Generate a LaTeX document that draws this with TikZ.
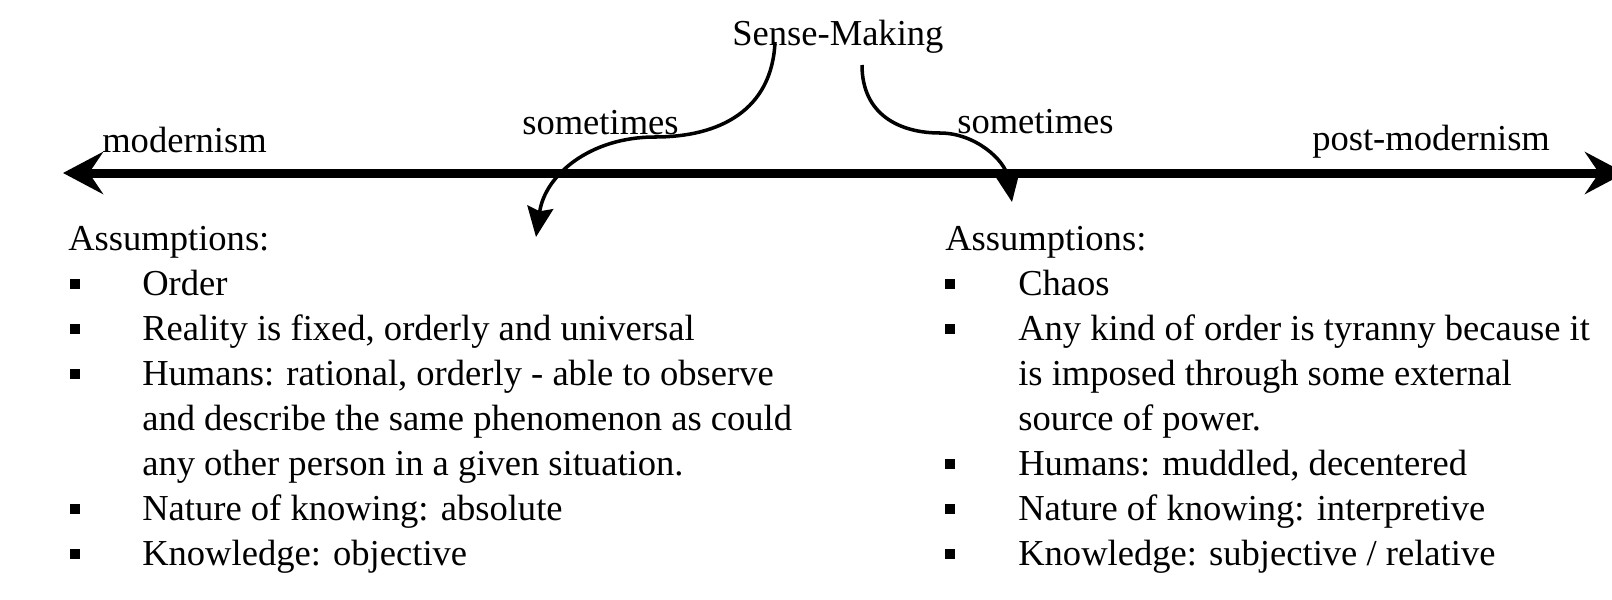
\documentclass[tikz,border=0pt]{standalone}
\usepackage{fontspec}
\setmainfont{Liberation Serif}
\usetikzlibrary{arrows.meta}
\begin{document}
\begin{tikzpicture}[x=0.025cm,y=-0.025cm,
    txt/.style={anchor=base west,inner sep=0pt,font=\fontsize{26}{32}\selectfont},
    axis/.style={line width=6.4pt,{Stealth[length=1cm,width=1.05cm,inset=0.35cm]}-{Stealth[length=1cm,width=1.05cm,inset=0.35cm]}},
    curvearrow/.style={line width=2.5pt,-{Stealth[length=0.75cm,width=0.65cm,inset=0.1cm]}},
    bul/.style={rectangle,fill=black,minimum size=0.25cm,inner sep=0pt}
]
    \useasboundingbox (0,0) rectangle (1612,599);
    \clip (0,0) rectangle (1612,599);
    % axis
    \coordinate (axl) at (63,173);
    \coordinate (axr) at (1625,173);
    \draw[axis] (axl) -- (axr);
    \node[txt] (mod) at (102,152) {modernism};
    \node[txt] (pmod) at (1312,150) {post-modernism};
    % sense-making and the two curves
    \node[txt] (sm) at (732,45) {Sense-Making};
    \node[txt] (lsome) at (522,134) {sometimes};
    \node[txt] (rsome) at (957,133) {sometimes};
    \coordinate (ls) at (775,42);
    \coordinate (lm) at (655,137);
    \coordinate (le) at (536,237);
    \coordinate (rs) at (862,65);
    \coordinate (rm) at (940,133);
    \coordinate (re) at (1012,202);
    \draw[curvearrow] (ls) .. controls (772,110) and (720,137) .. (lm) .. controls (590,137) and (545,175) .. (le);
    \draw[curvearrow] (rs) .. controls (862,115) and (900,133) .. (rm) .. controls (975,133) and (1005,160) .. (re);
    % left list
    \node[txt] (lhead) at (68,250) {Assumptions:};
    \foreach \y [count=\i] in {295,340,385,520,565}
        \node[bul] (lb\i) at (75,\y-11) {};
    \foreach \y/\t [count=\i] in {295/Order,
        340/{Reality is fixed, orderly and universal},
        385/{Humans: rational, orderly - able to observe},
        430/and describe the same phenomenon as could,
        475/any other person in a given situation.,
        520/Nature of knowing: absolute,
        565/Knowledge: objective}
        \node[txt] (lt\i) at (142,\y) {\t};
    % right list
    \node[txt] (rhead) at (945,250) {Assumptions:};
    \foreach \y [count=\i] in {295,340,475,520,565}
        \node[bul] (rb\i) at (950,\y-11) {};
    \foreach \y/\t [count=\i] in {295/Chaos,
        340/Any kind of order is tyranny because it,
        385/is imposed through some external,
        430/source of power.,
        475/{Humans: muddled, decentered},
        520/Nature of knowing: interpretive,
        565/{Knowledge: subjective / relative}}
        \node[txt] (rt\i) at (1018,\y) {\t};
\end{tikzpicture}
\end{document}
